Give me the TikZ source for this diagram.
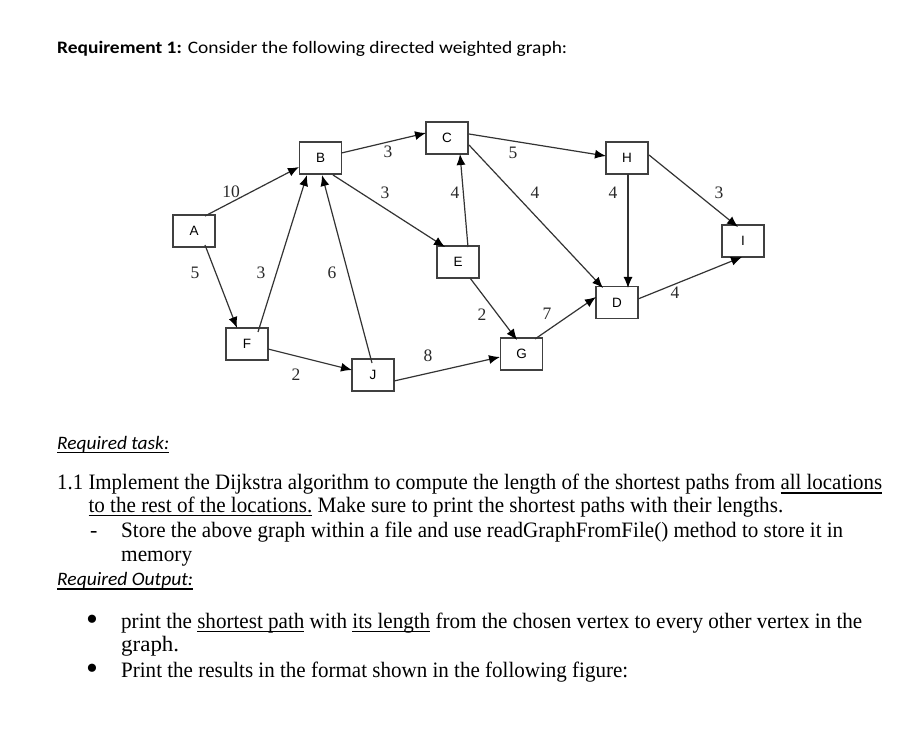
\documentclass[tikz,border=0pt]{standalone}
\usepackage{fontspec}
\usepackage{graphicx}
\setmainfont{Liberation Serif}
\newfontfamily\calib{Carlito}
\newfontfamily\arialf{Liberation Sans}
\usetikzlibrary{arrows.meta,calc}
\definecolor{linec}{HTML}{333333}
\definecolor{boxc}{HTML}{404040}
\definecolor{labc}{HTML}{2A2A2A}
\newlength\fitw
\newcommand\fitto[2]{\settowidth\fitw{#2}\pgfmathsetmacro\fitr{#1/\fitw}\scalebox{\fitr}[1]{#2}}
\newcommand\ulin[1]{\setbox0\hbox{#1}\rlap{\rule[-4.4pt]{\wd0}{1.8pt}}\box0\relax}
\newcommand\bodyfont{\fontsize{22}{26}\selectfont}
\begin{document}
\begin{tikzpicture}[x=1pt,y=-1pt,
  vbox/.style={draw=boxc, line width=1.2pt, minimum width=42pt, minimum height=32pt, inner sep=0pt, font=\arialf\fontsize{13.5}{15}\selectfont},
  edge/.style={draw=linec, line width=1.2pt, -{Latex[length=11pt,width=9pt,color=black]}},
  wlab/.style={font=\fontsize{17.5}{19}\selectfont, text=labc, inner sep=0pt},
  txt/.style={anchor=base west, inner sep=0pt, font=\bodyfont},
  hd/.style={anchor=base west, inner sep=0pt, font=\calib\itshape\fontsize{19}{22}\selectfont}]
\fill[white] (0,0) rectangle (910,735);
\useasboundingbox (0,0) rectangle (910,735);

% title
\node[anchor=base west, inner sep=0pt, font=\calib\fontsize{17.5}{20}\selectfont] (title) at (57,53.3)
  {\fitto{510pt}{\textbf{Requirement 1:} Consider the following directed weighted graph:}};

% graph nodes
\node[vbox] (A) at (194,231) {A\hspace{10pt}};
\node[vbox] (B) at (320.5,158) {B\hspace{10pt}};
\node[vbox] (C) at (447,138) {C\hspace{10pt}};
\node[vbox] (E) at (458,262) {E\hspace{10pt}};
\node[vbox] (F) at (247,344) {F\hspace{12pt}};
\node[vbox] (J) at (373,375) {J\hspace{10pt}};
\node[vbox] (H) at (627,158) {H\hspace{10pt}};
\node[vbox] (I) at (743,241) {I\hspace{14pt}};
\node[vbox] (D) at (617,302.5) {D\hspace{12pt}};
\node[vbox] (G) at (521.5,354) {G\hspace{8pt}};

% edges
\draw[edge] ([shift={(11,-15)}]A.center) -- ([shift={(-21.5,9)}]B.center);
\draw[edge] ([shift={(11,14)}]A.center) -- ([shift={(-10,-16)}]F.center);
\draw[edge] ([shift={(11,-12)}]F.center) -- ([shift={(-13.5,17)}]B.center);
\draw[edge] ([shift={(-1,-12)}]J.center) -- ([shift={(1.5,17)}]B.center);
\draw[edge] ([shift={(21,5)}]F.center) -- ([shift={(-21,-5)}]J.center);
\draw[edge] ([shift={(21,-5)}]B.center) -- ([shift={(-21,-5)}]C.center);
\draw[edge] ([shift={(12.5,17)}]B.center) -- ([shift={(-13,-15)}]E.center);
\draw[edge] ([shift={(10,-15)}]E.center) -- ([shift={(13,16)}]C.center);
\draw[edge] ([shift={(21,6)}]J.center) -- ([shift={(-21.5,3)}]G.center);
\draw[edge] ([shift={(12,16)}]E.center) -- ([shift={(-4.5,-14)}]G.center);
\draw[edge] ([shift={(13.5,-15)}]G.center) -- ([shift={(-21,-5.5)}]D.center);
\draw[edge] ([shift={(22,-4)}]C.center) -- ([shift={(-21,-2)}]H.center);
\draw[edge] ([shift={(22,7)}]C.center) -- ([shift={(-14,-14.5)}]D.center);
\draw[edge] ([shift={(1,16)}]H.center) -- ([shift={(11,-14.5)}]D.center);
\draw[edge] ([shift={(22,-3)}]H.center) -- ([shift={(-5,-14)}]I.center);
\draw[edge] ([shift={(21,-3.5)}]D.center) -- ([shift={(-1,16)}]I.center);

% weights
\node[wlab] (w1) at (231,192) {10};
\node[wlab] (w2) at (195,273) {5};
\node[wlab] (w3) at (261,273) {3};
\node[wlab] (w4) at (332,273) {6};
\node[wlab] (w5) at (296,375) {2};
\node[wlab] (w6) at (388,152) {3};
\node[wlab] (w7) at (385,193) {3};
\node[wlab] (w8) at (455,193) {4};
\node[wlab] (w9) at (428,356) {8};
\node[wlab] (w10) at (482,315) {2};
\node[wlab] (w11) at (547,314) {7};
\node[wlab] (w12) at (513,153) {5};
\node[wlab] (w13) at (535,193) {4};
\node[wlab] (w14) at (613,193) {4};
\node[wlab] (w15) at (719,193) {3};
\node[wlab] (w16) at (675,293) {4};

% text below
\node[hd] (rt) at (57,449) {\fitto{112pt}{\ulin{Required task:}}};
\node[txt] (l1a) at (57,489.5) {\fitto{26pt}{1.1}};
\node[txt] (l1b) at (88.3,489.5) {\fitto{793.7pt}{Implement the Dijkstra algorithm to compute the length of the shortest paths from \ulin{all locations}}};
\node[txt] (l2) at (88.3,512) {\fitto{694.7pt}{\ulin{to the rest of the locations.} Make sure to print the shortest paths with their lengths.}};
\node[txt] (d1) at (90,537) {-};
\node[txt] (l3) at (121,537) {\fitto{722pt}{Store the above graph within a file and use readGraphFromFile() method to store it in}};
\node[txt] (l4) at (121,561) {\fitto{71pt}{memory}};
\node[hd] (ro) at (57,585.5) {\fitto{136pt}{\ulin{Required Output:}}};
\node[txt] (b1) at (86,630) {\fontsize{34}{34}\selectfont •};
\node[txt] (l5) at (121,628) {\fitto{741pt}{print the \ulin{shortest path} with \ulin{its length} from the chosen vertex to every other vertex in the}};
\node[txt] (l6) at (121,651.5) {\fitto{58pt}{graph.}};
\node[txt] (b2) at (86,679) {\fontsize{34}{34}\selectfont •};
\node[txt] (l7) at (121,677) {\fitto{507pt}{Print the results in the format shown in the following figure:}};
\end{tikzpicture}
\end{document}
